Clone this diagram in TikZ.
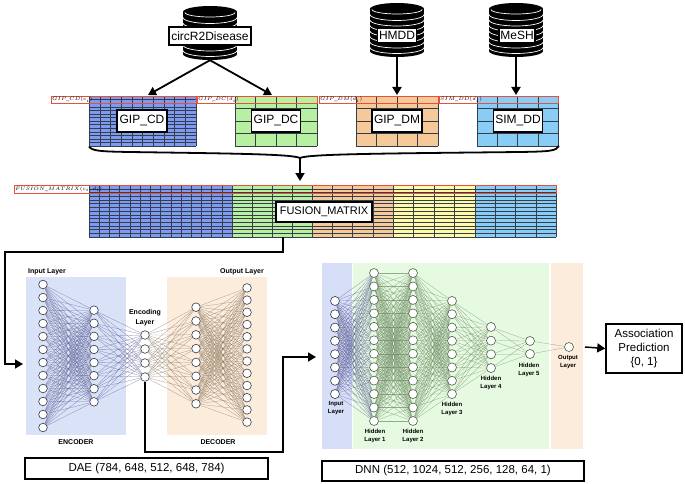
\documentclass[tikz,border=0pt]{standalone}
\usepackage{fontspec}
\setmainfont{Liberation Sans}
\usetikzlibrary{arrows.meta,calc}
\definecolor{mblue}{RGB}{125,155,240}
\definecolor{mgreen}{RGB}{183,240,160}
\definecolor{morange}{RGB}{246,202,152}
\definecolor{mlblue}{RGB}{135,205,245}
\definecolor{myellow}{RGB}{255,250,165}
\definecolor{redc}{RGB}{232,80,60}
\definecolor{encbg}{RGB}{218,226,248}
\definecolor{decbg}{RGB}{251,236,220}
\definecolor{dnngreen}{RGB}{230,250,225}
\definecolor{dnnblue}{RGB}{215,222,248}
\definecolor{gridc}{RGB}{55,60,75}
\definecolor{encedge}{RGB}{95,100,150}
\definecolor{decedge}{RGB}{140,120,95}
\definecolor{dnnedge}{RGB}{110,140,100}
\definecolor{neuronc}{RGB}{50,55,65}
\definecolor{neurong}{RGB}{75,95,70}
\newcommand\gridmat[7]{%
  \fill[#7] (#1,#2) rectangle (#3,#4);
  \foreach \i in {0,...,#5} \draw[gridline] ({#1+(#3-#1)*\i/#5},#2) -- ({#1+(#3-#1)*\i/#5},#4);
  \foreach \j in {0,...,#6} \draw[gridline] (#1,{#2+(#4-#2)*\j/#6}) -- (#3,{#2+(#4-#2)*\j/#6});
}
\newcommand\dbcyl[4]{%
  \fill[black] ({#2-27},{#3+6}) rectangle ({#2+27},{#4-6});
  \fill[black] (#2,{#3+6}) ellipse[x radius=27pt,y radius=6pt];
  \fill[black] (#2,{#4-6}) ellipse[x radius=27pt,y radius=6pt];
  \draw[white,line width=0.7pt] ({#2-25},{#3+6.5}) arc[start angle=180,end angle=360,x radius=25pt,y radius=4.5pt];
  \foreach \k in {1,...,7} \draw[white,line width=0.7pt] ({#2-27},{#3+6+\k*5.5}) arc[start angle=180,end angle=360,x radius=27pt,y radius=6pt];
  \node[inner sep=0,minimum width=54pt,minimum height={#4-#3}] (#1) at (#2,{(#3+#4)/2}) {};
}
\newcommand\nnlayer[6]{%
  \foreach \i in {1,...,#3} \node[neuron,#6] (#1-\i) at (#2,{#4+(\i-(#3+1)/2)*#5}) {};
}
\newcommand\nnlink[5]{%
  \foreach \i in {1,...,#2} \foreach \j in {1,...,#4} \draw[#5] (#1-\i) -- (#3-\j);
}
\begin{document}
\begin{tikzpicture}[x=1pt,y=-1pt,
  lbl/.style={draw=black,line width=1.5pt,fill=white,font=\fontsize{12}{14}\selectfont,inner sep=2pt},
  capbox/.style={draw=black,line width=1.2pt,fill=white,font=\fontsize{11.5}{14}\selectfont,inner sep=2pt},
  neuron/.style={circle,draw=neuronc,fill=white,line width=0.6pt,minimum size=8.6pt,inner sep=0pt},
  gneuron/.style={draw=neurong,minimum size=9pt},
  nlab/.style={font=\bfseries\fontsize{7}{10}\selectfont,align=center,inner sep=0pt},
  slab/.style={font=\bfseries\fontsize{6}{8}\selectfont,align=center,inner sep=0pt},
  arr/.style={line width=1.8pt,-{Triangle[length=8pt,width=9pt]}},
  conn/.style={line width=1.5pt,-{Triangle[length=8pt,width=9pt]}},
  gridline/.style={draw=gridc,line width=0.35pt},
  redbox/.style={draw=redc,line width=0.8pt},
  redtxt/.style={anchor=west,inner sep=1pt,font=\fontsize{5.5}{6}\selectfont},
  eedge/.style={draw=encedge,line width=0.3pt,draw opacity=0.7},
  dedge/.style={draw=decedge,line width=0.3pt,draw opacity=0.7},
  nedge/.style={draw=dnnedge,line width=0.3pt,draw opacity=0.7},
  bedge/.style={draw=encedge,line width=0.3pt,draw opacity=0.7}]
\useasboundingbox (0,0) rectangle (685,484);
\fill[white] (0,0) rectangle (685,484);

% ---------- databases ----------
\dbcyl{circdb}{210}{6}{60}
\dbcyl{hmdddb}{397}{3}{57}
\dbcyl{meshdb}{516}{3}{57}
\node[lbl,minimum width=82pt,minimum height=18pt] (circlbl) at (210,36) {circR2Disease};
\node[lbl,minimum width=39pt,minimum height=15pt,inner sep=1.5pt] (hmddlbl) at (397,35.5) {HMDD};
\node[lbl,minimum width=36pt,minimum height=15pt,inner sep=1.5pt] (meshlbl) at (517,35.5) {MeSH};

% ---------- similarity matrices ----------
\gridmat{89}{96}{196}{146}{10}{14}{mblue}
\gridmat{235}{96}{317}{146}{4}{4}{mgreen}
\gridmat{356}{96}{438}{146}{4}{4}{morange}
\gridmat{477}{96}{558}{146}{4}{4}{mlblue}
\draw[redbox] (51,96) rectangle (196,103);
\draw[redbox] (197,96) rectangle (317,103);
\draw[redbox] (319,96) rectangle (438,103);
\draw[redbox] (439,96) rectangle (558,103);
\node[redtxt] (cdtxt) at (51,99.5) {$GIP\_CD(c_i)$};
\node[redtxt] (dctxt) at (197,99.5) {$GIP\_DC(d_i)$};
\node[redtxt] (dmtxt) at (319,99.5) {$GIP\_DM(d_i)$};
\node[redtxt] (ddtxt) at (439,99.5) {$SIM\_DD(d_i)$};
\node[lbl,minimum width=50pt,minimum height=22pt] (gipcd) at (142,121) {GIP\_CD};
\node[lbl,minimum width=48pt,minimum height=22pt] (gipdc) at (276,121) {GIP\_DC};
\node[lbl,minimum width=50pt,minimum height=22pt] (gipdm) at (397,121) {GIP\_DM};
\node[lbl,minimum width=49pt,minimum height=22pt] (simdd) at (518,121) {SIM\_DD};
\coordinate (cdtop) at (148,95);
\coordinate (dctop) at (272,95);
\coordinate (dmtop) at (397,95);
\coordinate (ddtop) at (516,95);
\draw[arr] (circdb.south) -- (cdtop);
\draw[arr] (circdb.south) -- (dctop);
\draw[arr] (hmdddb.south) -- (dmtop);
\draw[arr] (meshdb.south) -- (ddtop);

% ---------- brace ----------
\coordinate (bracetip) at (300,158);
\draw[line width=1.8pt] (89,146.5) .. controls (92,151) and (100,151.5) .. (130,152)
  .. controls (230,153.5) and (292,154) .. (bracetip)
  .. controls (308,154) and (380,153.5) .. (520,152)
  .. controls (550,151.5) and (556,151) .. (559,146);
\coordinate (fustop) at (300,181);
\draw[arr] (bracetip) -- (fustop);

% ---------- fusion matrix ----------
\gridmat{89}{185}{232}{237}{14}{14}{mblue}
\gridmat{232}{185}{312}{237}{4}{14}{mgreen}
\gridmat{312}{185}{393}{237}{4}{14}{morange}
\gridmat{393}{185}{475}{237}{4}{14}{myellow}
\gridmat{475}{185}{556}{237}{4}{14}{mlblue}
\draw[redbox] (14,185) rectangle (556,193);
\node[redtxt] (fustxt) at (14,189) {$FUSION\_MATRIX(c_i,d_i)$};
\node[lbl,font=\fontsize{11}{13}\selectfont,minimum width=96pt,minimum height=20pt] (fusion) at (324,212) {FUSION\_MATRIX};

% ---------- DAE ----------
\node[fill=encbg,inner sep=0pt,minimum width=100pt,minimum height=158pt] (enc) at (76,356) {};
\node[fill=decbg,inner sep=0pt,minimum width=100pt,minimum height=158pt] (dec) at (217,356) {};
\nnlayer{a1}{43}{12}{356}{13}{}
\nnlayer{a2}{94}{8}{356}{13.1}{}
\nnlayer{a3}{145}{4}{356}{14}{}
\nnlayer{a4}{196}{8}{355.5}{13.8}{}
\nnlayer{a5}{247}{12}{355}{12.2}{}
\nnlink{a1}{12}{a2}{8}{eedge}
\nnlink{a2}{8}{a3}{4}{eedge}
\nnlink{a3}{4}{a4}{8}{dedge}
\nnlink{a4}{8}{a5}{12}{dedge}
\node[nlab] (inlbl) at (47,272) {Input Layer};
\node[nlab] (outlbl) at (242,272) {Output Layer};
\node[nlab] (enclbl) at (145,317.5) {Encoding\\Layer};
\node[nlab] (encname) at (76,442) {ENCODER};
\node[nlab] (decname) at (218,442) {DECODER};
\node[capbox,minimum width=243pt,minimum height=21pt] (daecap) at (146.5,468.5) {DAE (784, 648, 512, 648, 784)};

% fusion -> DAE
\coordinate (fusout) at (283,237);
\coordinate (daein) at (23,364);
\draw[conn] (fusout) -- (283,252) -- (5,252) -- (5,364) -- (daein);

% ---------- DNN ----------
\node[fill=dnnblue,inner sep=0pt,minimum width=30pt,minimum height=186pt] (dnnin) at (337,356) {};
\node[fill=dnngreen,inner sep=0pt,minimum width=196pt,minimum height=186pt] (dnnhid) at (451,356) {};
\node[fill=decbg,inner sep=0pt,minimum width=32pt,minimum height=186pt] (dnnout) at (567,356) {};
\nnlayer{b1}{335}{8}{347.5}{13.3}{draw=neuronc,minimum size=9pt}
\nnlayer{b2}{374}{12}{347}{13.45}{gneuron}
\nnlayer{b3}{413}{12}{347}{13.45}{gneuron}
\nnlayer{b4}{452}{8}{347.5}{13.3}{gneuron}
\nnlayer{b5}{491}{4}{347.5}{13.7}{gneuron}
\nnlayer{b6}{530}{2}{347.5}{13}{gneuron}
\nnlayer{b7}{569}{1}{347}{0}{gneuron}
\nnlink{b1}{8}{b2}{12}{bedge}
\nnlink{b2}{12}{b3}{12}{nedge}
\nnlink{b3}{12}{b4}{8}{nedge}
\nnlink{b4}{8}{b5}{4}{nedge}
\nnlink{b5}{4}{b6}{2}{nedge}
\nnlink{b6}{2}{b7}{1}{nedge}
\node[slab] (l1) at (336,408) {Input\\Layer};
\node[slab] (l2) at (375,436) {Hidden\\Layer 1};
\node[slab] (l3) at (413,436) {Hidden\\Layer 2};
\node[slab] (l4) at (452,409) {Hidden\\Layer 3};
\node[slab] (l5) at (491,383) {Hidden\\Layer 4};
\node[slab] (l6) at (529,370) {Hidden\\Layer 5};
\node[slab] (l7) at (568,362) {Output\\Layer};
\node[capbox,minimum width=262pt,minimum height=20pt] (dnncap) at (453,471) {DNN (512, 1024, 512, 256, 128, 64, 1)};
\node[lbl,align=center,font=\fontsize{11.5}{14}\selectfont,minimum width=76pt,minimum height=49pt,inner sep=1pt] (assoc) at (644,348.5) {Association\\Prediction\\\{0, 1\}};

% DAE -> DNN
\coordinate (dnnarr) at (316,357);
\draw[conn] (a3-4.south) -- (145,452) -- (283,452) -- (283,357) -- (dnnarr);
% DNN -> prediction
\coordinate (predstart) at (585,347);
\draw[conn] (predstart) -- (assoc.west);
\end{tikzpicture}
\end{document}
